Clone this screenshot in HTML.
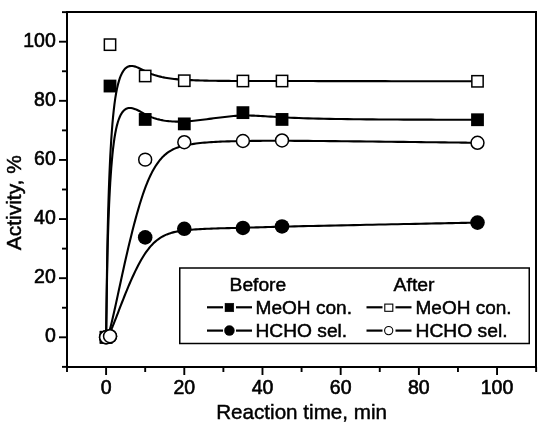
<!DOCTYPE html>
<html><head><meta charset="utf-8"><title>Activity vs reaction time</title>
<style>html,body{margin:0;padding:0;background:#fff;}svg{display:block;}</style>
</head><body>
<svg width="550" height="429" viewBox="0 0 550 429">
<rect width="550" height="429" fill="#fff"/>
<g><path d="M67,12 H536 V367 H67 Z" fill="none" stroke="#000" stroke-width="2"/><line x1="62" y1="366.86" x2="67" y2="366.86" stroke="#000" stroke-width="1.9"/><line x1="59" y1="337.30" x2="67" y2="337.30" stroke="#000" stroke-width="1.9"/><line x1="62" y1="307.74" x2="67" y2="307.74" stroke="#000" stroke-width="1.9"/><line x1="59" y1="278.18" x2="67" y2="278.18" stroke="#000" stroke-width="1.9"/><line x1="62" y1="248.62" x2="67" y2="248.62" stroke="#000" stroke-width="1.9"/><line x1="59" y1="219.06" x2="67" y2="219.06" stroke="#000" stroke-width="1.9"/><line x1="62" y1="189.50" x2="67" y2="189.50" stroke="#000" stroke-width="1.9"/><line x1="59" y1="159.94" x2="67" y2="159.94" stroke="#000" stroke-width="1.9"/><line x1="62" y1="130.38" x2="67" y2="130.38" stroke="#000" stroke-width="1.9"/><line x1="59" y1="100.82" x2="67" y2="100.82" stroke="#000" stroke-width="1.9"/><line x1="62" y1="71.26" x2="67" y2="71.26" stroke="#000" stroke-width="1.9"/><line x1="59" y1="41.70" x2="67" y2="41.70" stroke="#000" stroke-width="1.9"/><line x1="62" y1="12.14" x2="67" y2="12.14" stroke="#000" stroke-width="1.9"/><line x1="67.00" y1="367" x2="67.00" y2="372" stroke="#000" stroke-width="1.9"/><line x1="106.10" y1="367" x2="106.10" y2="375" stroke="#000" stroke-width="1.9"/><line x1="145.19" y1="367" x2="145.19" y2="372" stroke="#000" stroke-width="1.9"/><line x1="184.29" y1="367" x2="184.29" y2="375" stroke="#000" stroke-width="1.9"/><line x1="223.38" y1="367" x2="223.38" y2="372" stroke="#000" stroke-width="1.9"/><line x1="262.48" y1="367" x2="262.48" y2="375" stroke="#000" stroke-width="1.9"/><line x1="301.57" y1="367" x2="301.57" y2="372" stroke="#000" stroke-width="1.9"/><line x1="340.67" y1="367" x2="340.67" y2="375" stroke="#000" stroke-width="1.9"/><line x1="379.76" y1="367" x2="379.76" y2="372" stroke="#000" stroke-width="1.9"/><line x1="418.86" y1="367" x2="418.86" y2="375" stroke="#000" stroke-width="1.9"/><line x1="457.96" y1="367" x2="457.96" y2="372" stroke="#000" stroke-width="1.9"/><line x1="497.05" y1="367" x2="497.05" y2="375" stroke="#000" stroke-width="1.9"/><line x1="536.14" y1="367" x2="536.14" y2="372" stroke="#000" stroke-width="1.9"/></g>
<g><path d="M106.10,337.30 L106.10,337.30 L106.10,337.27 L106.10,337.20 L106.10,337.07 L106.11,336.86 L106.11,336.54 L106.12,336.09 L106.12,335.49 L106.13,334.73 L106.15,333.77 L106.16,332.60 L106.18,331.20 L106.20,329.55 L106.23,327.62 L106.26,325.39 L106.29,322.85 L106.33,319.97 L106.37,316.72 L106.42,313.10 L106.48,309.07 L106.54,304.63 L106.60,299.73 L106.67,294.37 L106.75,288.53 L106.84,282.18 L106.93,275.38 L107.04,268.15 L107.15,260.55 L107.28,252.62 L107.43,244.41 L107.60,235.95 L107.79,227.30 L108.00,218.50 L108.24,209.59 L108.50,200.62 L108.79,191.63 L109.11,182.67 L109.46,173.78 L109.85,165.01 L110.27,156.40 L110.74,147.99 L111.24,139.83 L111.79,131.97 L112.38,124.45 L113.01,117.31 L113.70,110.61 L114.43,104.37 L115.22,98.65 L116.06,93.49 L116.96,88.86 L117.90,84.74 L118.89,81.11 L119.93,77.93 L121.02,75.20 L122.14,72.88 L123.31,70.94 L124.51,69.35 L125.75,68.11 L127.03,67.17 L128.34,66.52 L129.67,66.12 L131.04,65.96 L132.43,66.00 L133.85,66.23 L135.29,66.61 L136.75,67.13 L138.24,67.75 L139.73,68.45 L141.24,69.21 L142.77,69.99 L144.30,70.79 L145.85,71.56 L147.40,72.28 L148.96,72.97 L150.52,73.61 L152.10,74.21 L153.69,74.77 L155.29,75.29 L156.91,75.77 L158.54,76.22 L160.19,76.64 L161.85,77.03 L163.53,77.38 L165.23,77.71 L166.95,78.01 L168.69,78.28 L170.46,78.53 L172.25,78.76 L174.06,78.97 L175.90,79.16 L177.77,79.33 L179.66,79.48 L181.59,79.62 L183.54,79.75 L185.53,79.87 L187.55,79.98 L189.60,80.08 L191.68,80.17 L193.80,80.26 L195.93,80.34 L198.09,80.41 L200.27,80.48 L202.47,80.54 L204.68,80.60 L206.90,80.65 L209.14,80.69 L211.37,80.73 L213.61,80.77 L215.85,80.80 L218.09,80.83 L220.32,80.85 L222.54,80.87 L224.75,80.89 L226.95,80.91 L229.13,80.92 L231.29,80.93 L233.43,80.94 L235.54,80.95 L237.62,80.96 L239.67,80.97 L241.70,80.97 L243.70,80.98 L245.69,80.98 L247.68,80.99 L249.70,80.99 L251.74,80.99 L253.82,81.00 L255.96,81.00 L258.17,81.01 L260.46,81.01 L262.84,81.01 L265.33,81.01 L267.94,81.02 L270.68,81.02 L273.56,81.02 L276.60,81.03 L279.81,81.03 L283.20,81.03 L286.78,81.04 L290.58,81.04 L294.59,81.05 L298.84,81.05 L303.34,81.06 L308.09,81.06 L313.11,81.07 L318.37,81.08 L323.86,81.08 L329.54,81.09 L335.39,81.10 L341.38,81.11 L347.50,81.12 L353.70,81.13 L359.98,81.14 L366.29,81.14 L372.63,81.15 L378.95,81.16 L385.24,81.17 L391.47,81.18 L397.62,81.19 L403.66,81.20 L409.56,81.21 L415.30,81.22 L420.85,81.22 L426.19,81.23 L431.29,81.24 L436.13,81.25 L440.69,81.25 L444.92,81.26 L448.83,81.27 L452.41,81.27 L455.68,81.28 L458.65,81.28 L461.34,81.29 L463.76,81.29 L465.92,81.29 L467.85,81.30 L469.55,81.30 L471.04,81.30 L472.32,81.30 L473.43,81.30 L474.37,81.31 L475.15,81.31 L475.78,81.31 L476.30,81.31 L476.69,81.31 L476.99,81.31 L477.21,81.31 L477.35,81.31 L477.44,81.31 L477.48,81.31 L477.50,81.31 L477.50,81.31" fill="none" stroke="#000" stroke-width="2.1" stroke-linejoin="round"/><rect x="100.45" y="331.65" width="11.30" height="11.30" fill="#fff" stroke="#000" stroke-width="1.5"/><rect x="104.36" y="39.01" width="11.30" height="11.30" fill="#fff" stroke="#000" stroke-width="1.5"/><rect x="139.54" y="70.34" width="11.30" height="11.30" fill="#fff" stroke="#000" stroke-width="1.5"/><rect x="178.64" y="75.07" width="11.30" height="11.30" fill="#fff" stroke="#000" stroke-width="1.5"/><rect x="237.28" y="75.36" width="11.30" height="11.30" fill="#fff" stroke="#000" stroke-width="1.5"/><rect x="276.38" y="75.36" width="11.30" height="11.30" fill="#fff" stroke="#000" stroke-width="1.5"/><rect x="471.85" y="75.66" width="11.30" height="11.30" fill="#fff" stroke="#000" stroke-width="1.5"/><path d="M106.10,337.30 L106.10,337.30 L106.10,337.28 L106.10,337.22 L106.10,337.11 L106.11,336.92 L106.11,336.65 L106.12,336.26 L106.12,335.75 L106.13,335.09 L106.15,334.27 L106.16,333.27 L106.18,332.07 L106.20,330.64 L106.23,328.99 L106.26,327.08 L106.29,324.89 L106.33,322.42 L106.37,319.63 L106.42,316.52 L106.48,313.07 L106.54,309.25 L106.60,305.04 L106.67,300.44 L106.75,295.42 L106.84,289.98 L106.93,284.13 L107.04,277.93 L107.15,271.41 L107.28,264.61 L107.43,257.56 L107.60,250.31 L107.79,242.90 L108.00,235.36 L108.24,227.73 L108.50,220.05 L108.79,212.37 L109.11,204.71 L109.46,197.12 L109.85,189.64 L110.27,182.30 L110.74,175.15 L111.24,168.22 L111.79,161.55 L112.38,155.18 L113.01,149.15 L113.70,143.50 L114.43,138.26 L115.22,133.48 L116.06,129.19 L116.96,125.36 L117.90,121.99 L118.89,119.04 L119.93,116.50 L121.02,114.33 L122.14,112.52 L123.31,111.05 L124.51,109.89 L125.75,109.03 L127.03,108.42 L128.34,108.07 L129.67,107.93 L131.04,108.00 L132.43,108.24 L133.85,108.64 L135.29,109.16 L136.75,109.80 L138.24,110.52 L139.73,111.30 L141.24,112.13 L142.77,112.97 L144.30,113.81 L145.85,114.61 L147.40,115.38 L148.96,116.09 L150.52,116.76 L152.10,117.38 L153.69,117.95 L155.29,118.47 L156.91,118.96 L158.54,119.39 L160.19,119.79 L161.85,120.14 L163.53,120.46 L165.23,120.73 L166.95,120.96 L168.69,121.16 L170.46,121.32 L172.25,121.45 L174.06,121.54 L175.90,121.59 L177.77,121.61 L179.66,121.60 L181.59,121.56 L183.54,121.49 L185.53,121.39 L187.55,121.27 L189.60,121.11 L191.68,120.93 L193.80,120.73 L195.93,120.51 L198.09,120.27 L200.27,120.01 L202.47,119.75 L204.68,119.47 L206.90,119.19 L209.14,118.90 L211.37,118.60 L213.61,118.31 L215.85,118.02 L218.09,117.73 L220.32,117.45 L222.54,117.18 L224.75,116.92 L226.95,116.68 L229.13,116.45 L231.29,116.24 L233.43,116.06 L235.54,115.89 L237.62,115.76 L239.67,115.65 L241.70,115.57 L243.70,115.52 L245.69,115.51 L247.68,115.51 L249.70,115.54 L251.74,115.59 L253.82,115.67 L255.96,115.76 L258.17,115.87 L260.46,115.99 L262.84,116.13 L265.33,116.28 L267.94,116.44 L270.68,116.61 L273.56,116.79 L276.60,116.97 L279.81,117.15 L283.20,117.33 L286.78,117.52 L290.58,117.70 L294.59,117.87 L298.84,118.04 L303.34,118.21 L308.09,118.36 L313.11,118.50 L318.37,118.63 L323.86,118.75 L329.54,118.86 L335.39,118.97 L341.38,119.06 L347.50,119.14 L353.70,119.22 L359.98,119.29 L366.29,119.35 L372.63,119.40 L378.95,119.45 L385.24,119.49 L391.47,119.53 L397.62,119.56 L403.66,119.59 L409.56,119.61 L415.30,119.63 L420.85,119.64 L426.19,119.66 L431.29,119.67 L436.13,119.68 L440.69,119.68 L444.92,119.69 L448.83,119.70 L452.41,119.70 L455.68,119.71 L458.65,119.71 L461.34,119.71 L463.76,119.72 L465.92,119.72 L467.85,119.72 L469.55,119.73 L471.04,119.73 L472.32,119.73 L473.43,119.73 L474.37,119.73 L475.15,119.73 L475.78,119.74 L476.30,119.74 L476.69,119.74 L476.99,119.74 L477.21,119.74 L477.35,119.74 L477.44,119.74 L477.48,119.74 L477.50,119.74 L477.50,119.74" fill="none" stroke="#000" stroke-width="2.1" stroke-linejoin="round"/><rect x="99.70" y="330.90" width="12.80" height="12.80" fill="#000"/><rect x="103.61" y="79.64" width="12.80" height="12.80" fill="#000"/><rect x="138.79" y="113.04" width="12.80" height="12.80" fill="#000"/><rect x="177.89" y="117.48" width="12.80" height="12.80" fill="#000"/><rect x="236.53" y="106.24" width="12.80" height="12.80" fill="#000"/><rect x="275.63" y="113.04" width="12.80" height="12.80" fill="#000"/><rect x="471.10" y="113.34" width="12.80" height="12.80" fill="#000"/><path d="M106.10,337.30 L106.10,337.30 L106.10,337.30 L106.10,337.30 L106.10,337.30 L106.11,337.30 L106.11,337.30 L106.12,337.30 L106.12,337.29 L106.13,337.29 L106.15,337.29 L106.16,337.28 L106.18,337.28 L106.20,337.27 L106.23,337.27 L106.26,337.26 L106.29,337.25 L106.33,337.24 L106.37,337.23 L106.42,337.21 L106.48,337.20 L106.54,337.18 L106.60,337.17 L106.67,337.15 L106.75,337.13 L106.84,337.10 L106.93,337.07 L107.04,337.02 L107.15,336.95 L107.28,336.85 L107.43,336.71 L107.60,336.53 L107.79,336.30 L108.00,336.01 L108.24,335.66 L108.50,335.23 L108.79,334.72 L109.11,334.13 L109.46,333.45 L109.85,332.66 L110.27,331.77 L110.74,330.77 L111.24,329.64 L111.79,328.39 L112.38,327.00 L113.01,325.47 L113.70,323.79 L114.43,321.96 L115.22,319.96 L116.06,317.79 L116.96,315.47 L117.90,313.01 L118.89,310.42 L119.93,307.71 L121.02,304.90 L122.14,302.00 L123.31,299.03 L124.51,296.00 L125.75,292.92 L127.03,289.80 L128.34,286.67 L129.67,283.53 L131.04,280.39 L132.43,277.28 L133.85,274.20 L135.29,271.17 L136.75,268.20 L138.24,265.31 L139.73,262.50 L141.24,259.80 L142.77,257.21 L144.30,254.75 L145.85,252.44 L147.40,250.28 L148.96,248.27 L150.52,246.40 L152.10,244.67 L153.69,243.08 L155.29,241.61 L156.91,240.27 L158.54,239.04 L160.19,237.91 L161.85,236.90 L163.53,235.97 L165.23,235.14 L166.95,234.40 L168.69,233.73 L170.46,233.14 L172.25,232.61 L174.06,232.14 L175.90,231.73 L177.77,231.37 L179.66,231.05 L181.59,230.77 L183.54,230.52 L185.53,230.30 L187.55,230.10 L189.60,229.91 L191.68,229.73 L193.80,229.56 L195.93,229.41 L198.09,229.26 L200.27,229.13 L202.47,229.01 L204.68,228.90 L206.90,228.79 L209.14,228.69 L211.37,228.60 L213.61,228.52 L215.85,228.44 L218.09,228.37 L220.32,228.30 L222.54,228.24 L224.75,228.18 L226.95,228.13 L229.13,228.08 L231.29,228.02 L233.43,227.98 L235.54,227.93 L237.62,227.88 L239.67,227.83 L241.70,227.78 L243.70,227.73 L245.69,227.68 L247.68,227.62 L249.70,227.57 L251.74,227.51 L253.82,227.45 L255.96,227.39 L258.17,227.33 L260.46,227.26 L262.84,227.20 L265.33,227.13 L267.94,227.06 L270.68,226.98 L273.56,226.90 L276.60,226.82 L279.81,226.74 L283.20,226.65 L286.78,226.56 L290.58,226.47 L294.59,226.37 L298.84,226.27 L303.34,226.16 L308.09,226.06 L313.11,225.94 L318.37,225.83 L323.86,225.71 L329.54,225.58 L335.39,225.46 L341.38,225.33 L347.50,225.21 L353.70,225.08 L359.98,224.95 L366.29,224.82 L372.63,224.69 L378.95,224.56 L385.24,224.43 L391.47,224.31 L397.62,224.18 L403.66,224.06 L409.56,223.95 L415.30,223.83 L420.85,223.72 L426.19,223.62 L431.29,223.52 L436.13,223.42 L440.69,223.33 L444.92,223.25 L448.83,223.17 L452.41,223.10 L455.68,223.04 L458.65,222.98 L461.34,222.92 L463.76,222.88 L465.92,222.83 L467.85,222.80 L469.55,222.76 L471.04,222.73 L472.32,222.71 L473.43,222.69 L474.37,222.67 L475.15,222.65 L475.78,222.64 L476.30,222.63 L476.69,222.62 L476.99,222.62 L477.21,222.61 L477.35,222.61 L477.44,222.61 L477.48,222.61 L477.50,222.61 L477.50,222.61" fill="none" stroke="#000" stroke-width="2.1" stroke-linejoin="round"/><circle cx="106.10" cy="337.30" r="7.30" fill="#000"/><circle cx="110.01" cy="336.27" r="7.30" fill="#000"/><circle cx="145.19" cy="237.39" r="7.30" fill="#000"/><circle cx="184.29" cy="228.81" r="7.30" fill="#000"/><circle cx="242.93" cy="227.93" r="7.30" fill="#000"/><circle cx="282.03" cy="226.45" r="7.30" fill="#000"/><circle cx="477.50" cy="222.61" r="7.30" fill="#000"/><path d="M106.10,337.30 L106.10,337.30 L106.10,337.30 L106.10,337.30 L106.10,337.30 L106.11,337.30 L106.11,337.30 L106.12,337.30 L106.12,337.29 L106.13,337.29 L106.15,337.29 L106.16,337.28 L106.18,337.28 L106.20,337.27 L106.23,337.27 L106.26,337.26 L106.29,337.25 L106.33,337.24 L106.37,337.23 L106.42,337.21 L106.48,337.20 L106.54,337.18 L106.60,337.17 L106.67,337.15 L106.75,337.13 L106.84,337.10 L106.93,337.06 L107.04,337.00 L107.15,336.89 L107.28,336.73 L107.43,336.51 L107.60,336.21 L107.79,335.82 L108.00,335.33 L108.24,334.72 L108.50,333.98 L108.79,333.10 L109.11,332.07 L109.46,330.88 L109.85,329.50 L110.27,327.93 L110.74,326.16 L111.24,324.18 L111.79,321.96 L112.38,319.50 L113.01,316.79 L113.70,313.81 L114.43,310.55 L115.22,307.00 L116.06,303.15 L116.96,299.02 L117.90,294.63 L118.89,290.02 L119.93,285.19 L121.02,280.18 L122.14,275.01 L123.31,269.70 L124.51,264.29 L125.75,258.78 L127.03,253.22 L128.34,247.61 L129.67,241.99 L131.04,236.39 L132.43,230.81 L133.85,225.29 L135.29,219.86 L136.75,214.53 L138.24,209.34 L139.73,204.30 L141.24,199.44 L142.77,194.78 L144.30,190.35 L145.85,186.17 L147.40,182.27 L148.96,178.63 L150.52,175.24 L152.10,172.10 L153.69,169.20 L155.29,166.52 L156.91,164.05 L158.54,161.79 L160.19,159.72 L161.85,157.84 L163.53,156.13 L165.23,154.58 L166.95,153.18 L168.69,151.93 L170.46,150.80 L172.25,149.80 L174.06,148.91 L175.90,148.12 L177.77,147.42 L179.66,146.80 L181.59,146.25 L183.54,145.76 L185.53,145.32 L187.55,144.91 L189.60,144.54 L191.68,144.19 L193.80,143.87 L195.93,143.58 L198.09,143.30 L200.27,143.05 L202.47,142.82 L204.68,142.62 L206.90,142.43 L209.14,142.26 L211.37,142.10 L213.61,141.96 L215.85,141.84 L218.09,141.73 L220.32,141.63 L222.54,141.55 L224.75,141.47 L226.95,141.40 L229.13,141.34 L231.29,141.29 L233.43,141.24 L235.54,141.20 L237.62,141.16 L239.67,141.12 L241.70,141.08 L243.70,141.05 L245.69,141.01 L247.68,140.98 L249.70,140.95 L251.74,140.92 L253.82,140.90 L255.96,140.87 L258.17,140.85 L260.46,140.83 L262.84,140.81 L265.33,140.80 L267.94,140.79 L270.68,140.78 L273.56,140.78 L276.60,140.78 L279.81,140.78 L283.20,140.79 L286.78,140.80 L290.58,140.81 L294.59,140.83 L298.84,140.86 L303.34,140.89 L308.09,140.92 L313.11,140.96 L318.37,141.01 L323.86,141.06 L329.54,141.11 L335.39,141.16 L341.38,141.22 L347.50,141.29 L353.70,141.35 L359.98,141.42 L366.29,141.49 L372.63,141.55 L378.95,141.63 L385.24,141.70 L391.47,141.77 L397.62,141.84 L403.66,141.91 L409.56,141.98 L415.30,142.05 L420.85,142.11 L426.19,142.18 L431.29,142.24 L436.13,142.29 L440.69,142.35 L444.92,142.40 L448.83,142.45 L452.41,142.49 L455.68,142.53 L458.65,142.57 L461.34,142.60 L463.76,142.63 L465.92,142.66 L467.85,142.68 L469.55,142.70 L471.04,142.72 L472.32,142.73 L473.43,142.75 L474.37,142.76 L475.15,142.77 L475.78,142.77 L476.30,142.78 L476.69,142.79 L476.99,142.79 L477.21,142.79 L477.35,142.79 L477.44,142.79 L477.48,142.79 L477.50,142.80 L477.50,142.80" fill="none" stroke="#000" stroke-width="2.1" stroke-linejoin="round"/><circle cx="106.10" cy="337.30" r="6.45" fill="#fff" stroke="#000" stroke-width="1.5"/><circle cx="110.01" cy="336.27" r="6.45" fill="#fff" stroke="#000" stroke-width="1.5"/><circle cx="145.19" cy="159.64" r="6.45" fill="#fff" stroke="#000" stroke-width="1.5"/><circle cx="184.29" cy="142.20" r="6.45" fill="#fff" stroke="#000" stroke-width="1.5"/><circle cx="242.93" cy="141.02" r="6.45" fill="#fff" stroke="#000" stroke-width="1.5"/><circle cx="282.03" cy="140.43" r="6.45" fill="#fff" stroke="#000" stroke-width="1.5"/><circle cx="477.50" cy="142.80" r="6.45" fill="#fff" stroke="#000" stroke-width="1.5"/></g>
<g font-family="'Liberation Sans', Arial, sans-serif" font-size="19.5" fill="#000" stroke="#000" stroke-width="0.45"><text x="55.8" y="342.40" text-anchor="end" stroke-width="0.6">0</text><text x="55.8" y="283.28" text-anchor="end" stroke-width="0.6">20</text><text x="55.8" y="224.16" text-anchor="end" stroke-width="0.6">40</text><text x="55.8" y="165.04" text-anchor="end" stroke-width="0.6">60</text><text x="55.8" y="105.92" text-anchor="end" stroke-width="0.6">80</text><text x="55.8" y="46.80" text-anchor="end" stroke-width="0.6">100</text><text x="106.10" y="393.5" text-anchor="middle" stroke-width="0.6">0</text><text x="184.29" y="393.5" text-anchor="middle" stroke-width="0.6">20</text><text x="262.48" y="393.5" text-anchor="middle" stroke-width="0.6">40</text><text x="340.67" y="393.5" text-anchor="middle" stroke-width="0.6">60</text><text x="418.86" y="393.5" text-anchor="middle" stroke-width="0.6">80</text><text x="497.05" y="393.5" text-anchor="middle" stroke-width="0.6">100</text><text x="216.2" y="418.7" font-size="20.8" textLength="170.8" lengthAdjust="spacingAndGlyphs">Reaction time, min</text><text transform="translate(21.4,250.2) rotate(-90)" x="0" y="0" font-size="20.8" textLength="95" lengthAdjust="spacingAndGlyphs">Activity, %</text></g>
<g font-family="'Liberation Sans', Arial, sans-serif" font-size="18" fill="#000" stroke="#000" stroke-width="0.45"><rect x="179.75" y="268" width="349.5" height="75.5" fill="#fff" stroke="#000" stroke-width="1.5"/><text x="229.6" y="290.6" textLength="56.6" lengthAdjust="spacingAndGlyphs">Before</text><text x="393.6" y="290.6" textLength="40.9" lengthAdjust="spacingAndGlyphs">After</text><line x1="207" y1="307.3" x2="223" y2="307.3" stroke="#000" stroke-width="2.2"/><line x1="236" y1="307.3" x2="252" y2="307.3" stroke="#000" stroke-width="2.2"/><rect x="225" y="303.2" width="8.8" height="8.6" fill="#000"/><line x1="207" y1="330.6" x2="223" y2="330.6" stroke="#000" stroke-width="2.2"/><line x1="236" y1="330.6" x2="252" y2="330.6" stroke="#000" stroke-width="2.2"/><circle cx="229.4" cy="330.6" r="5" fill="#000"/><line x1="366.5" y1="307.3" x2="382.5" y2="307.3" stroke="#000" stroke-width="2.2"/><line x1="395.5" y1="307.3" x2="411.5" y2="307.3" stroke="#000" stroke-width="2.2"/><rect x="384.8" y="304.1" width="8" height="7.2" fill="#fff" stroke="#000" stroke-width="1.1"/><line x1="366.5" y1="330.6" x2="382.5" y2="330.6" stroke="#000" stroke-width="2.2"/><line x1="395.5" y1="330.6" x2="411.5" y2="330.6" stroke="#000" stroke-width="2.2"/><circle cx="388.7" cy="330.6" r="4.1" fill="#fff" stroke="#000" stroke-width="1.1"/><text x="255.5" y="313.8" textLength="96.5" lengthAdjust="spacingAndGlyphs">MeOH con.</text><text x="255.5" y="336.8" textLength="91.7" lengthAdjust="spacingAndGlyphs">HCHO sel.</text><text x="415.5" y="313.8" textLength="96.1" lengthAdjust="spacingAndGlyphs">MeOH con.</text><text x="415.5" y="336.8" textLength="92.1" lengthAdjust="spacingAndGlyphs">HCHO sel.</text></g>
</svg>
</body></html>
